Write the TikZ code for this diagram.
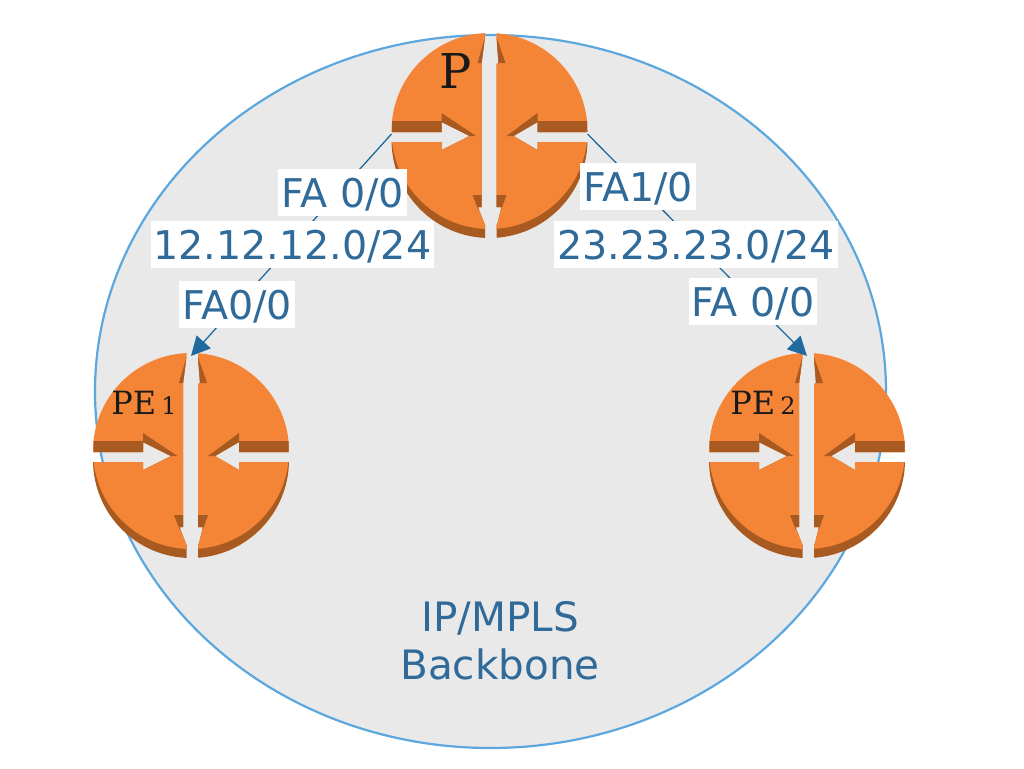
\documentclass[tikz,border=0pt]{standalone}
\usepackage{fontspec}
\setmainfont{DejaVu Sans}
\newfontfamily\serifdv{DejaVu Serif}
\usetikzlibrary{arrows.meta}
\definecolor{bbfill}{HTML}{E9E9E9}
\definecolor{bbline}{HTML}{5CA8DE}
\definecolor{linkc}{HTML}{1F6A9E}
\definecolor{txtc}{HTML}{2F6A99}
\definecolor{rorange}{HTML}{F58536}
\definecolor{rbrown}{HTML}{A85A20}
\tikzset{
  x=1pt,y=-1pt,
  bone/.style={fill=bbfill,draw=bbline,line width=2.2pt},
  hub/.style={circle,minimum size=196pt,inner sep=0pt,outer sep=0pt},
  link/.style={draw=linkc,line width=1.3pt,-{Triangle[length=19pt,width=19pt]}},
  tag/.style={fill=white,text=txtc,font=\fontsize{39.6}{39.6}\selectfont,inner sep=0pt,text height=39pt,text depth=8pt,inner xsep=3pt},
  caption/.style={text=txtc,font=\fontsize{40.5}{40.5}\selectfont,inner sep=0pt},
  rname/.style={text=black!90,inner sep=0pt}
}
\newcommand{\routerart}[2]{%
  \begin{scope}[shift={(#1,#2)}]
    \begin{scope}[even odd rule]
      \clip (-130,-20) rectangle (130,230)
        (-4.5,-2)--(7,-2)--(7,4)--(9,30)--(7,31)--(7,174)--(12,174)--(8,190)--(7,192)--(7,207)--(-4.5,207)--(-4.5,192)--(-11.5,174)--(-8,174)--(-8,31)--(-4.5,4)--cycle
        (-99,99)--(-48,99)--(-48,89)--(-20,103)--(-48,117)--(-48,109)--(-99,109)--cycle
        (99,99)--(48,99)--(48,89)--(24,103)--(48,117)--(48,109)--(99,109)--cycle;
      \fill[rbrown] (0,107) circle[radius=98];
      \fill[rorange] (0,98) circle[radius=98];
      \fill[rbrown] (-97.5,88)--(-48,88)--(-48,80)--(-13.5,103)--(-48,103)--(-97.5,103)--cycle;
      \fill[rbrown] (97.5,88)--(48,88)--(48,80)--(17,103)--(48,103)--(97.5,103)--cycle;
      \fill[rbrown] (-4.5,4)--(-12,30)--(-8,30)--cycle;
      \fill[rbrown] (7,4)--(16,30)--(9,30)--cycle;
      \fill[rbrown] (-17,162)--(17,162)--(12,176)--(-11.5,176)--cycle;
    \end{scope}
  \end{scope}}
\begin{document}
\begin{tikzpicture}
  \useasboundingbox (0,0) rectangle (1024,768);
  \fill[white] (0,0) rectangle (1024,768);
  \path[bone] (490.5,391.5) ellipse[x radius=395.5,y radius=356.5];
  \node[hub] (P) at (489.5,134) {};
  \node[hub] (PE1) at (191,454) {};
  \node[hub] (PE2) at (807,454) {};
  \routerart{489.5}{33}
  \routerart{191}{353}
  \routerart{807}{353}
  \draw[link] (P.west) -- (PE1.north);
  \draw[link] (P.east) -- (PE2.north);
  \node[tag] (la) at (342.5,192) {FA 0/0};
  \node[tag] (lb) at (292.5,244) {12.12.12.0/24};
  \node[tag] (lc) at (237,304) {FA0/0};
  \node[tag] (ld) at (638,186) {FA1/0};
  \node[tag] (le) at (696,244) {23.23.23.0/24};
  \node[tag] (lf) at (753,301) {FA 0/0};
  \node[caption] (cap1) at (500,618) {IP/MPLS};
  \node[caption] (cap2) at (500,664) {Backbone};
  \node[rname,font=\serifdv\fontsize{48}{48}\selectfont] (nP) at (456,71) {P};
  \node[rname,font=\serifdv\fontsize{32}{32}\selectfont] (nPE1) at (144,403) {PE\,{\fontsize{24}{24}\selectfont 1}};
  \node[rname,font=\serifdv\fontsize{32}{32}\selectfont] (nPE2) at (763,403) {PE\,{\fontsize{24}{24}\selectfont 2}};
\end{tikzpicture}
\end{document}
